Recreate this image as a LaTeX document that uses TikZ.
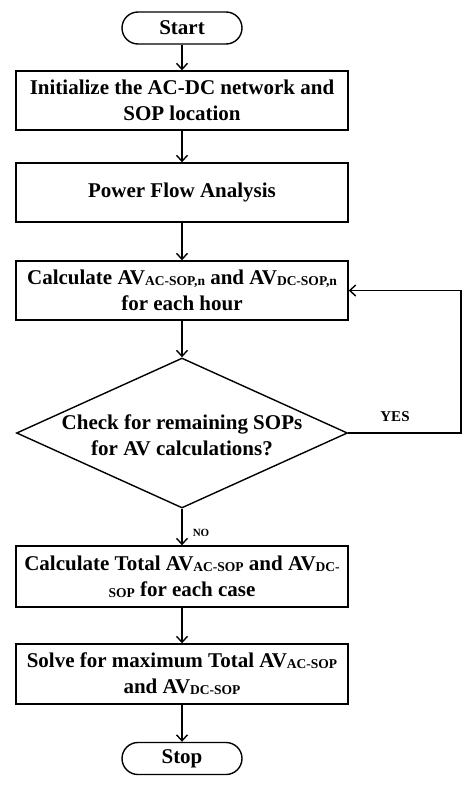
\documentclass[tikz,border=0pt]{standalone}
\usepackage{fontspec}
\setmainfont{Liberation Serif}
\usepackage{tikz}
\usetikzlibrary{shapes.geometric}
\usetikzlibrary{arrows.meta}

\tikzset{
  flowbox/.style={draw, line width=1.4pt, minimum width=332pt, minimum height=59pt, align=center, inner sep=0pt,
    font=\bfseries\fontsize{21}{26}\selectfont},
  termbox/.style={draw, line width=1.4pt, rounded corners=16pt, minimum width=120pt, minimum height=32pt,
    font=\bfseries\fontsize{21}{24}\selectfont},
  flowarrow/.style={line width=1.4pt, -{Straight Barb[length=6pt,width=11pt,line width=1.4pt]}},
}
\newcommand{\avsub}[1]{\raisebox{-1pt}{\fontsize{13.5}{13.5}\selectfont #1}}

\begin{document}
\begin{tikzpicture}[x=1pt,y=-1pt]
            \useasboundingbox (0,0) rectangle (474,789);

            % start and stop
            \node[termbox] (start) at (182,28) {Start};
            \node[termbox] (stop) at (182,758.5) {Stop};

            % steps
            \node[flowbox] (init) at (182,100.5) {Initialize the AC-DC network and\\SOP location};
            \node[flowbox] (pflow) at (182,192.5) {Power Flow Analysis};
            \node[flowbox] (calc) at (182,290.5) {Calculate AV\avsub{AC-SOP,n} and AV\avsub{DC-SOP,n}\\for each hour};
            \node[flowbox, minimum height=61pt] (total) at (182,576.5) {Calculate Total AV\avsub{AC-SOP} and AV\avsub{DC-}\\\avsub{SOP} for each case};
            \node[flowbox, minimum height=60pt] (maxav) at (182,674) {Solve for maximum Total AV\avsub{AC-SOP}\\and AV\avsub{DC-SOP}};

            % decision
            \node[draw, diamond, line width=1.4pt, minimum width=331pt, minimum height=150pt, inner sep=0pt] (check) at (182,433) {};
            \node[align=center, font=\bfseries\fontsize{21}{26}\selectfont] (checktext) at (182,435) {Check for remaining SOPs\\for AV calculations?};
            \coordinate (yescorner) at (461,290.5);

            % arrows
            \draw[flowarrow] (start) -- (init);
            \draw[flowarrow] (init) -- (pflow);
            \draw[flowarrow] (pflow) -- (calc);
            \draw[flowarrow] (calc) -- (check);
            \draw[flowarrow] (check) -- (total);
            \draw[flowarrow] (total) -- (maxav);
            \draw[flowarrow] (maxav) -- (stop);
            \draw[flowarrow] (check.east) -| (yescorner) -- (calc.east);

            % labels
            \node[font=\bfseries\fontsize{15}{15}\selectfont] (yes) at (395,417) {YES};
            \node[font=\bfseries\fontsize{11}{11}\selectfont] (no) at (201,533) {NO};
\end{tikzpicture}
\end{document}
